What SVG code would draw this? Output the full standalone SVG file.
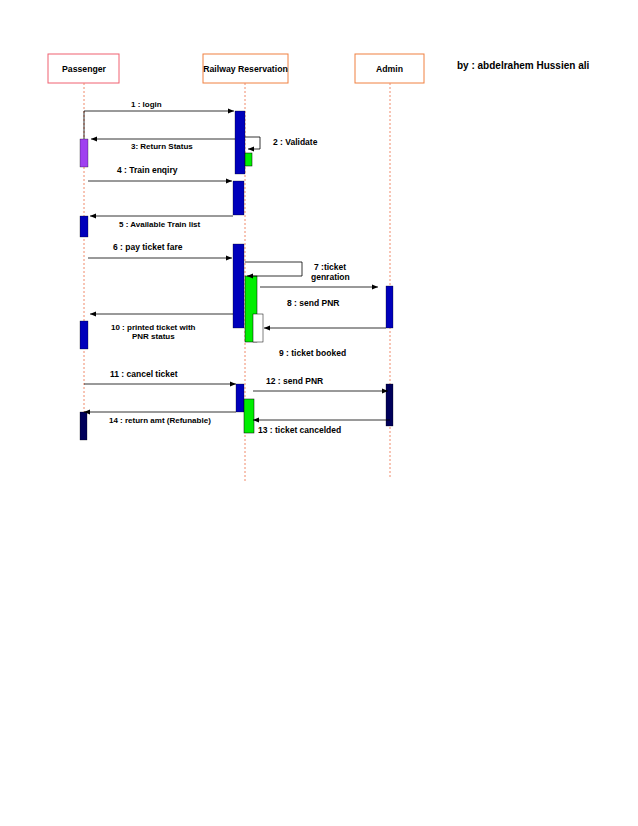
<svg xmlns="http://www.w3.org/2000/svg" width="638" height="826" viewBox="0 0 638 826">
<style>
text{font-family:"Liberation Sans",Arial,sans-serif;font-weight:bold;fill:#000}
.t{font-size:8px}
.h{font-size:8.7px}
.life{stroke:#f08a6a;stroke-width:1;stroke-dasharray:2,2}
.m{stroke:#000;stroke-width:0.8;fill:none}
.bl{fill:#0000bb;stroke:#000;stroke-width:0.3}
.nv{fill:#00005a;stroke:#000;stroke-width:0.3}
.gr{fill:#00ee00;stroke:#000;stroke-width:0.5}
</style>
<defs><marker id="a" viewBox="0 0 10 10" refX="10" refY="5" markerWidth="8" markerHeight="8" orient="auto"><path d="M0,1 L10,5 L0,9 z" fill="#000"/></marker></defs>
<rect width="638" height="826" fill="#fff"/>
<g id="passenger"><rect x="48" y="54" width="71" height="29" fill="#fff" stroke="#f06070"/><text class="h" x="84" y="72" text-anchor="middle">Passenger</text><line class="life" x1="84" y1="83" x2="84" y2="440"/></g>
<g id="railway"><rect x="203" y="54" width="85" height="29" fill="#fff" stroke="#f08040"/><text class="h" x="245.5" y="72" text-anchor="middle">Railway Reservation</text><line class="life" x1="245" y1="83" x2="245" y2="482"/></g>
<g id="admin"><rect x="355" y="54" width="69" height="29" fill="#fff" stroke="#f08040"/><text class="h" x="389.5" y="72" text-anchor="middle">Admin</text><line class="life" x1="390" y1="83" x2="390" y2="478"/></g>
<text x="457" y="69" font-size="10">by : abdelrahem Hussien ali</text>
<g id="activations">
<rect class="bl" x="235" y="111" width="10" height="63"/>
<rect class="gr" x="245" y="153" width="7" height="13"/>
<rect x="80" y="139" width="8" height="28" fill="#a040f0" stroke="#000" stroke-width="0.3"/>
<rect class="bl" x="233" y="181" width="11" height="34"/>
<rect class="bl" x="80" y="216" width="8" height="21"/>
<rect class="bl" x="233" y="244" width="11" height="84"/>
<rect class="gr" x="245" y="276" width="12" height="66"/>
<rect class="bl" x="386" y="286" width="7" height="42"/>
<rect x="253" y="314" width="10" height="28" fill="#fff" stroke="#000" stroke-width="0.5"/>
<rect class="bl" x="80" y="321" width="8" height="28"/>
<rect class="bl" x="236" y="384" width="8" height="28"/>
<rect class="nv" x="386" y="384" width="7" height="42"/>
<rect class="gr" x="244" y="399" width="10" height="34"/>
<rect class="nv" x="80" y="412" width="7" height="28"/>
</g>
<g id="connectors">
<path class="m" d="M84,139 V111 H234" marker-end="url(#a)"/>
<path class="m" d="M245,137 H260 V149 H248" marker-end="url(#a)"/>
<line class="m" x1="235" y1="139" x2="91" y2="139" marker-end="url(#a)"/>
<line class="m" x1="88" y1="181" x2="232" y2="181" marker-end="url(#a)"/>
<line class="m" x1="233" y1="216" x2="90" y2="216" marker-end="url(#a)"/>
<line class="m" x1="88" y1="258" x2="232" y2="258" marker-end="url(#a)"/>
<path class="m" d="M245,262 H302 V276 H247" marker-end="url(#a)"/>
<line class="m" x1="260" y1="287" x2="378" y2="287" marker-end="url(#a)"/>
<line class="m" x1="386" y1="328" x2="264" y2="328" marker-end="url(#a)"/>
<line class="m" x1="233" y1="314" x2="90" y2="314" marker-end="url(#a)"/>
<line class="m" x1="84" y1="384" x2="236" y2="384" marker-end="url(#a)"/>
<line class="m" x1="253" y1="391" x2="388" y2="391" marker-end="url(#a)"/>
<line class="m" x1="390" y1="420" x2="253" y2="420" marker-end="url(#a)"/>
<line class="m" x1="236" y1="412" x2="84" y2="412" marker-end="url(#a)"/>
</g>
<g id="labels">
<text class="t" x="131" y="107">1 : login</text>
<text x="273" y="145" font-size="8.5">2 : Validate</text>
<text class="t" x="131" y="149">3: Return Status</text>
<text x="117" y="173" font-size="8.5">4 : Train enqiry</text>
<text class="t" x="119" y="227">5 : Available Train list</text>
<text x="113" y="250" font-size="8.5">6 : pay ticket fare</text>
<text x="314" y="270" font-size="8.5">7 :ticket</text>
<text x="311" y="280" font-size="8.5">genration</text>
<text x="287" y="306" font-size="8.5">8 : send PNR</text>
<text class="t" x="111" y="330">10 : printed ticket with</text>
<text class="t" x="132" y="339">PNR status</text>
<text x="279" y="356" font-size="8.5">9 : ticket booked</text>
<text x="110" y="377" font-size="8.5">11 : cancel ticket</text>
<text x="266" y="384" font-size="8.5">12 : send PNR</text>
<text class="t" x="109" y="423">14 : return amt (Refunable)</text>
<text x="258" y="433" font-size="8.5">13 : ticket cancelded</text>
</g>
</svg>
